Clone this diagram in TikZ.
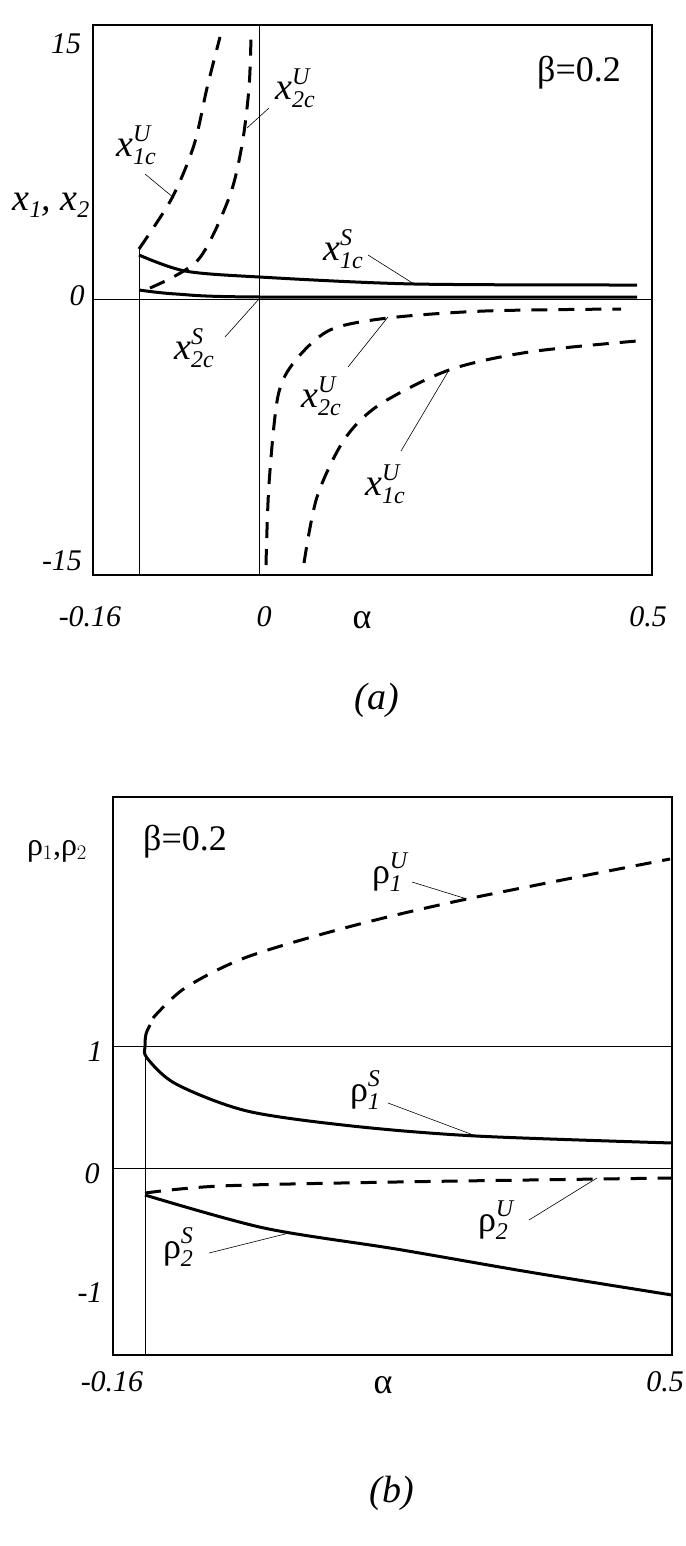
\documentclass[tikz,border=0pt]{standalone}
\usepackage{fontspec}
\setmainfont{Liberation Serif}
\newcommand\ssb[2]{{\fontsize{24}{24}\selectfont\itshape\rlap{\raisebox{15pt}{#1}}\raisebox{-8pt}{#2}}}
\newcommand\sbb[1]{{\fontsize{24}{24}\selectfont\itshape\raisebox{-7pt}{#1}}}
\begin{document}
\begin{tikzpicture}[x=1pt,y=-1pt,
  frame/.style={line width=1.4pt},
  thin/.style={line width=0.6pt},
  sol/.style={line width=3pt},
  dsh/.style={line width=3pt,dash pattern=on 16pt off 11pt},
  lead/.style={line width=0.6pt},
  tick/.style={font=\fontsize{30}{32}\selectfont\itshape},
  lab/.style={font=\fontsize{38}{40}\selectfont\itshape},
  gr/.style={font=\fontsize{36}{38}\selectfont}]
\useasboundingbox (0,0) rectangle (685,1546);
% ---------- panel (a)
\draw[frame] (93,25) rectangle (652,575);
\draw[thin] (93,299) -- (652,299);
\draw[thin] (139,249) -- (139,575);
\draw[thin] (259,25) -- (259,575);
\draw[dsh] plot[smooth] coordinates {(139,249) (172,198) (194,145) (207,88) (220,37)};
\draw[dsh] plot[smooth] coordinates {(150,288) (198,260) (229,198) (242,145) (249,88) (251,37)};
\draw[sol] plot[smooth] coordinates {(139,255) (185,271) (259,277) (414,284) (637,285)};
\draw[sol] plot[smooth] coordinates {(139,290) (176,294) (259,297) (637,297)};
\draw[dsh] plot[smooth] coordinates {(266,565) (269,484) (278,396) (295,361) (330,330) (388,318) (485,311) (621,309)};
\draw[dsh] plot[smooth] coordinates {(304,563) (317,497) (344,440) (379,405) (449,370) (529,352) (637,341)};
\node[lab] (a2u) at (295,88) {x\ssb{U}{2c}};
\node[lab] (a1u) at (136,145) {x\ssb{U}{1c}};
\node[lab] (a1s) at (343,249) {x\ssb{S}{1c}};
\node[lab] (a2s) at (194,348) {x\ssb{S}{2c}};
\node[lab] (b2u) at (321,396) {x\ssb{U}{2c}};
\node[lab] (b1u) at (385,484) {x\ssb{U}{1c}};
\coordinate (p1) at (247,128); \coordinate (p2) at (174,198);
\coordinate (p3) at (414,284); \coordinate (p4) at (259,299);
\coordinate (p5) at (388,317); \coordinate (p6) at (449,370);
\draw[lead] (269,108) -- (p1);
\draw[lead] (145,174) -- (p2);
\draw[lead] (368,255) -- (p3);
\draw[lead] (225,337) -- (p4);
\draw[lead] (348,367) -- (p5);
\draw[lead] (401,451) -- (p6);
\node[gr] (ba) at (579,73) {β=0.2};
\node[lab] (ya) at (51,205) {x\sbb{1}, x\sbb{2}};
\node[tick] at (66,44) {15};
\node[tick] at (77,296) {0};
\node[tick] at (62,561) {-15};
\node[tick] at (90,617) {-0.16};
\node[tick] at (264,617) {0};
\node[gr] at (362,620) {α};
\node[tick] at (648,617) {0.5};
\node[gr,font=\fontsize{38}{40}\selectfont\itshape] at (377,700) {(a)};
% ---------- panel (b)
\draw[frame] (113,797) rectangle (672,1355);
\draw[thin] (113,1046) -- (672,1046);
\draw[thin] (113,1168) -- (672,1168);
\draw[thin] (145,1046) -- (145,1355);
\draw[dsh] plot[smooth] coordinates {(153,1018) (185,988) (247,957) (352,926) (467,899) (670,859)};
\draw[sol] plot[smooth] coordinates {(150,1025) (146,1034) (145,1046) (147,1058) (176,1084) (247,1111) (352,1126) (476,1136) (672,1143)};
\draw[dsh] plot[smooth] coordinates {(145,1193) (220,1186) (396,1182) (672,1178)};
\draw[sol] plot[smooth] coordinates {(145,1195) (264,1228) (396,1249) (529,1272) (672,1295)};
\node[gr] (r1u) at (387,872) {ρ\ssb{U}{1}};
\node[gr] (r1s) at (365,1090) {ρ\ssb{S}{1}};
\node[gr] (r2s) at (178,1247) {ρ\ssb{S}{2}};
\node[gr] (r2u) at (493,1220) {ρ\ssb{U}{2}};
\coordinate (q1) at (467,899); \coordinate (q2) at (476,1136);
\coordinate (q3) at (289,1233); \coordinate (q4) at (597,1178);
\draw[lead] (412,882) -- (q1);
\draw[lead] (388,1103) -- (q2);
\draw[lead] (209,1253) -- (q3);
\draw[lead] (529,1220) -- (q4);
\node[gr] (bb) at (185,842) {β=0.2};
\node[gr,font=\fontsize{32}{34}\selectfont] (yb) at (57,851) {ρ$_1$,ρ$_2$};
\node[tick] at (95,1052) {1};
\node[tick] at (92,1174) {0};
\node[tick] at (90,1293) {-1};
\node[tick] at (112,1382) {-0.16};
\node[gr] at (383,1385) {α};
\node[tick] at (665,1382) {0.5};
\node[gr,font=\fontsize{38}{40}\selectfont\itshape] at (392,1493) {(b)};
\end{tikzpicture}
\end{document}
